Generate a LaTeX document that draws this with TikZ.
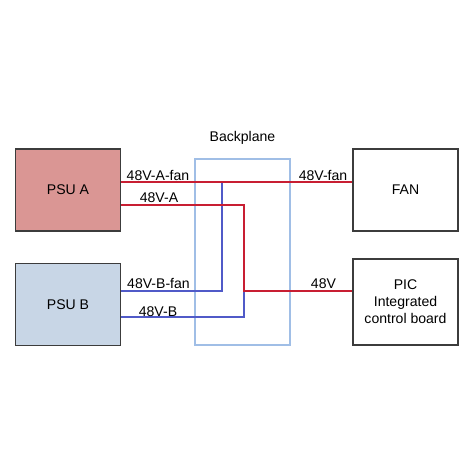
\documentclass[tikz,border=0pt]{standalone}
\usepackage{fontspec}
\setmainfont{Liberation Sans}
\definecolor{psuAfill}{RGB}{218,150,148}
\definecolor{psuBfill}{RGB}{200,214,230}
\definecolor{wirered}{RGB}{200,30,50}
\definecolor{wireblue}{RGB}{80,90,200}
\definecolor{planeblue}{RGB}{160,190,230}
\definecolor{boxgray}{RGB}{60,60,60}
\begin{document}
\begin{tikzpicture}[x=0.02cm,y=-0.02cm,font=\fontsize{8}{9.6}\selectfont,
  unit/.style={draw=boxgray,line width=0.6pt,minimum width=2.1cm,minimum height=1.64cm,align=center,inner sep=1pt},
  redwire/.style={draw=wirered,line width=0.8pt},
  bluewire/.style={draw=wireblue,line width=0.8pt},
  wirelabel/.style={anchor=south,inner sep=0.8pt}]
\useasboundingbox (0,0) rectangle (474,474);

\node[unit,fill=psuAfill] (psuA) at (68,190) {PSU A};
\node[unit,fill=psuBfill] (psuB) at (68,304.5) {PSU B};
\node[unit] (fan) at (405.5,190) {FAN};
\node[unit,minimum height=1.72cm] (pic) at (405.5,302) {PIC\\Integrated\\control board};
\node[draw=planeblue,line width=0.6pt,minimum width=1.9cm,minimum height=3.72cm,
  label={[inner sep=0pt,label distance=8pt]above:Backplane}] (plane) at (242.5,252) {};

\coordinate (jB) at (222,182);
\coordinate (jA) at (244,205);
\coordinate (jP) at (244,291);
\coordinate (bfan) at (222,291);
\coordinate (bmain) at (244,317);

% PSU B feeds
\draw[bluewire] (psuB.east |- bfan) -- (bfan) -- (jB);
\draw[bluewire] (psuB.east |- bmain) -- (bmain) -- (jP);

% PSU A feeds
\draw[redwire] (psuA.east |- jB) -- (fan.west |- jB);
\draw[redwire] (psuA.east |- jA) -- (jA) -- (jP) -- (pic.west |- jP);

\node[wirelabel] (lAfan) at (158,182) {48V-A-fan};
\node[wirelabel] (lA) at (159,204) {48V-A};
\node[wirelabel] (lBfan) at (158.5,290) {48V-B-fan};
\node[wirelabel] (lB) at (158,318) {48V-B};
\node[wirelabel] (lfan) at (323,182) {48V-fan};
\node[wirelabel] (lpic) at (323.5,290) {48V};
\end{tikzpicture}
\end{document}
